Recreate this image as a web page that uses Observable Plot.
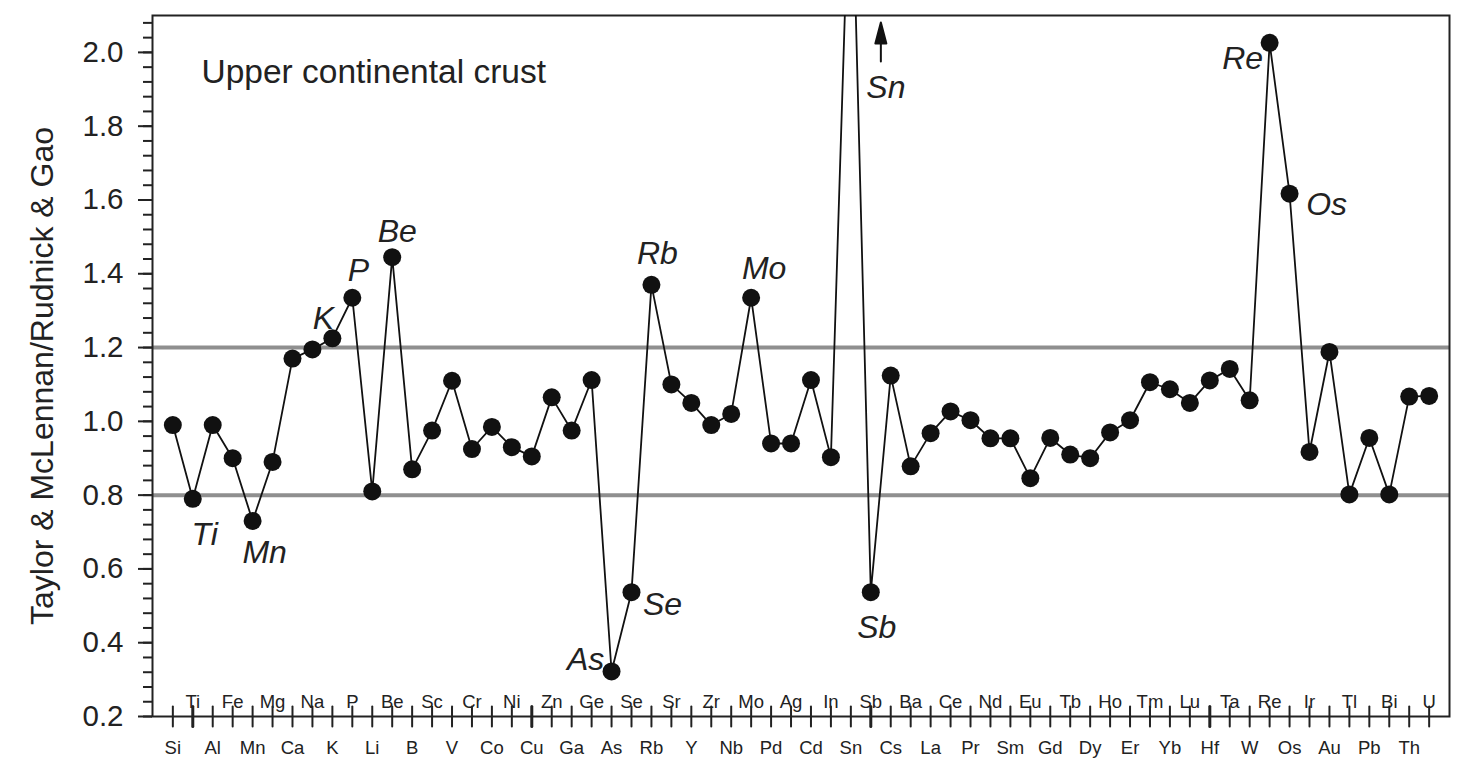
<!DOCTYPE html>
<html>
<head>
<meta charset="utf-8">
<script src="https://cdn.jsdelivr.net/npm/d3@7"></script>
<script src="https://cdn.jsdelivr.net/npm/@observablehq/plot@0.6"></script>
<style>
  html, body { margin: 0; padding: 0; background: #fff; }
  #chart { width: 1463px; height: 764px; }
</style>
</head>
<body>
<div id="chart"></div>
<script>
// ---- data ----
const elements = ["Si","Ti","Al","Fe","Mn","Mg","Ca","Na","K","P",
  "Li","Be","B","Sc","V","Cr","Co","Ni","Cu","Zn",
  "Ga","Ge","As","Se","Rb","Sr","Y","Zr","Nb","Mo",
  "Pd","Ag","Cd","In","Sn","Sb","Cs","Ba","La","Ce",
  "Pr","Nd","Sm","Eu","Gd","Tb","Dy","Ho","Er","Tm",
  "Yb","Lu","Hf","Ta","W","Re","Os","Ir","Au","Tl",
  "Pb","Bi","Th","U"];
const ratios = [0.99,0.79,0.99,0.90,0.73,0.89,1.17,1.195,1.225,1.335,
  0.81,1.445,0.87,0.975,1.11,0.925,0.985,0.93,0.905,1.065,
  0.975,1.112,0.322,0.537,1.37,1.10,1.05,0.99,1.02,1.335,
  0.94,0.94,1.112,0.903,2.62,0.537,1.124,0.878,0.968,1.027,
  1.003,0.954,0.954,0.846,0.955,0.910,0.900,0.970,1.003,1.106,
  1.087,1.050,1.111,1.142,1.057,2.026,1.617,0.917,1.188,0.802,
  0.955,0.802,1.067,1.069];
const refLines = [0.8, 1.2];
const yMajorTicks = [0.2,0.4,0.6,0.8,1.0,1.2,1.4,1.6,1.8,2.0];
const yMinorTicks = d3.range(0, 48).map(i => +(0.2 + i * 0.04).toFixed(2));
const thickTickElements = ["Ti","Cu","Sb","Hf"];
const labeledElements = ["Ti","Mn","K","P","Be","As","Se","Rb","Mo","Sb","Re","Os"];
const offPlotElement = "Sn";
const panelTitle = "Upper continental crust";
const yTitle = "Taylor & McLennan/Rudnick & Gao";

// ---- table built from the arrays ----
const table = elements.map((el, i) => ({el, v: ratios[i], i}));
const bottomLabels = elements.filter((d, i) => i % 2 === 0);
const topLabels = elements.filter((d, i) => i % 2 === 1);

// label offsets (pixels, relative to the point)
const labelStyle = {
  Ti: [12, 36], Mn: [12, 32], K: [-9, -20], P: [6, -27], Be: [5, -25],
  As: [-26, -12], Se: [31, 13], Rb: [6, -31], Mo: [13, -29], Sb: [6, 36],
  Re: [-27, 16], Os: [37, 11]
};

const font = "'Liberation Sans', Arial, Helvetica, sans-serif";

const lineShape = {
  draw(context, l) { context.moveTo(0, 0); context.lineTo(0, -l); }
};
const arrowShape = {
  draw(context, l) {
    context.moveTo(0, 0); context.lineTo(0, -l + 18);
    context.moveTo(-5.5, -l + 21); context.lineTo(0, -l); context.lineTo(5.5, -l + 21); context.closePath();
  }
};

const labelMarks = labeledElements.map(el => Plot.text(table.filter(d => d.el === el), {
  x: "el", y: "v", text: "el",
  dx: labelStyle[el][0], dy: labelStyle[el][1],
  fontSize: 32, fontStyle: "italic", fill: "#222",
  textAnchor: "middle", lineAnchor: "middle"
}));

const chart = Plot.plot({
  width: 1463,
  height: 764,
  marginLeft: 152,
  marginRight: 14,
  marginTop: 15,
  marginBottom: 48,
  style: {fontFamily: font, color: "#222", background: "#fff", overflow: "visible"},
  x: {type: "point", domain: elements, padding: 1.02},
  y: {domain: [0.2, 2.1]},
  marks: [
    Plot.ruleY(refLines, {stroke: "#8f8f8f", strokeWidth: 4}),
    Plot.frame({stroke: "#222", strokeWidth: 2}),
    Plot.axisY({ticks: yMinorTicks, tickSize: 9, tickFormat: () => "", strokeWidth: 2, label: null}),
    Plot.axisY({ticks: yMajorTicks, tickSize: 14, tickPadding: 15, tickFormat: d3.format(".1f"),
      fontSize: 29.5, strokeWidth: 2, label: null}),
    Plot.axisX({ticks: bottomLabels, tickSize: 0, tickPadding: 24, fontSize: 18.5, label: null}),
    Plot.text(topLabels, {x: d => d, frameAnchor: "bottom", lineAnchor: "bottom", dy: -9, fontSize: 18.5}),
    Plot.vector(elements, {x: d => d, frameAnchor: "bottom", length: 20, anchor: "middle",
      shape: lineShape, stroke: "#222",
      strokeWidth: d => thickTickElements.includes(d) ? 3 : 2}),
    Plot.line(table, {x: "el", y: "v", stroke: "#111", strokeWidth: 1.8, clip: true}),
    Plot.dot(table, {x: "el", y: "v", r: 9, fill: "#111", clip: true}),
    ...labelMarks,
    Plot.vector([offPlotElement], {x: d => d, frameAnchor: "top", anchor: "start", dx: 30, dy: 46,
      length: 39, rotate: 0, shape: arrowShape, stroke: "#111", fill: "#111", strokeWidth: 2}),
    Plot.text([offPlotElement], {x: d => d, frameAnchor: "top", dx: 35, dy: 72, text: d => d,
      fontSize: 32, fontStyle: "italic", fill: "#222", lineAnchor: "middle"}),
    Plot.text([panelTitle], {frameAnchor: "top-left", dx: 49, dy: 57, text: d => d,
      fontSize: 33.5, textAnchor: "start", lineAnchor: "middle", fill: "#222"}),
    Plot.text([yTitle], {frameAnchor: "left", dx: -110, dy: 10, rotate: -90, text: d => d,
      fontSize: 32, textAnchor: "middle", lineAnchor: "middle", fill: "#222"})
  ]
});
document.getElementById("chart").appendChild(chart);
</script>
</body>
</html>
